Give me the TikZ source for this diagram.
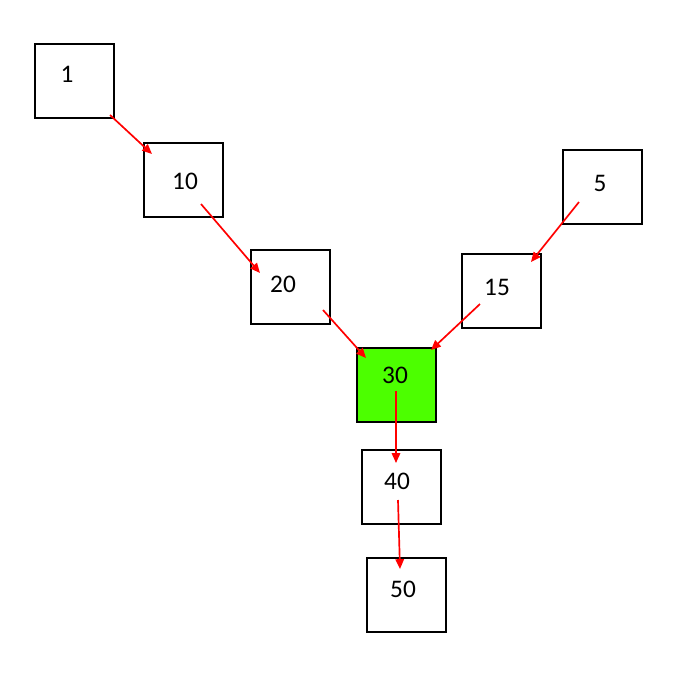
\documentclass[tikz,border=0pt]{standalone}
\usepackage{fontspec}
\setmainfont{Carlito}
\usepackage{tikz}
\usetikzlibrary{arrows.meta}
\definecolor{hitgreen}{HTML}{4CFF00}

\begin{document}
\begin{tikzpicture}
    [
      x=0.025cm, y=-0.025cm,
      box/.style={draw,line width=1.4pt,minimum width=1.975cm,minimum height=1.85cm,inner sep=0pt},
      hit/.style={box,fill=hitgreen},
      num/.style={font=\fontsize{18}{21}\selectfont,inner sep=0pt},
      post/.style={->,>={Triangle[length=7pt,width=6pt]},red,line width=1.2pt},
    ]
    \useasboundingbox (0,0) rectangle (700,700);

    \node (b1) [box] at (74.5,81) {};
    \node (b10) [box] at (183.5,180) {};
    \node (b20) [box] at (290.5,287) {};
    \node (b30) [hit] at (396.5,385) {};
    \node (b40) [box] at (401.5,487) {};
    \node (b50) [box] at (406.5,595) {};
    \node (b5) [box] at (602.5,187) {};
    \node (b15) [box] at (501.5,291) {};

    \node (t1) [num] at (67,74) {1};
    \node (t10) [num] at (185,181) {10};
    \node (t20) [num] at (283,284) {20};
    \node (t30) [num] at (395,375) {30};
    \node (t40) [num] at (397,481) {40};
    \node (t50) [num] at (403,589) {50};
    \node (t5) [num] at (600,183) {5};
    \node (t15) [num] at (497,287) {15};

    \path
    ([shift={(-5,-4)}]b1.south east) edge [post] ([shift={(9,12)}]b10.north west)
    ([shift={(17.5,24)}]b10.center) edge [post] ([shift={(10,24)}]b20.north west)
    ([shift={(-8,-15)}]b20.south east) edge [post] ([shift={(10,11)}]b30.north west)

    ([shift={(-23.5,15)}]b5.center) edge [post] ([shift={(-11,9)}]b15.north east)
    ([shift={(-21.5,13)}]b15.center) edge [post] ([shift={(-6,3)}]b30.north east)

    ([shift={(-0.5,6)}]b30.center) edge [post] ([shift={(-5.5,14)}]b40.north)
    ([shift={(-3.5,13)}]b40.center) edge [post] ([shift={(-6.5,12)}]b50.north)
    ;

\end{tikzpicture}
\end{document}
